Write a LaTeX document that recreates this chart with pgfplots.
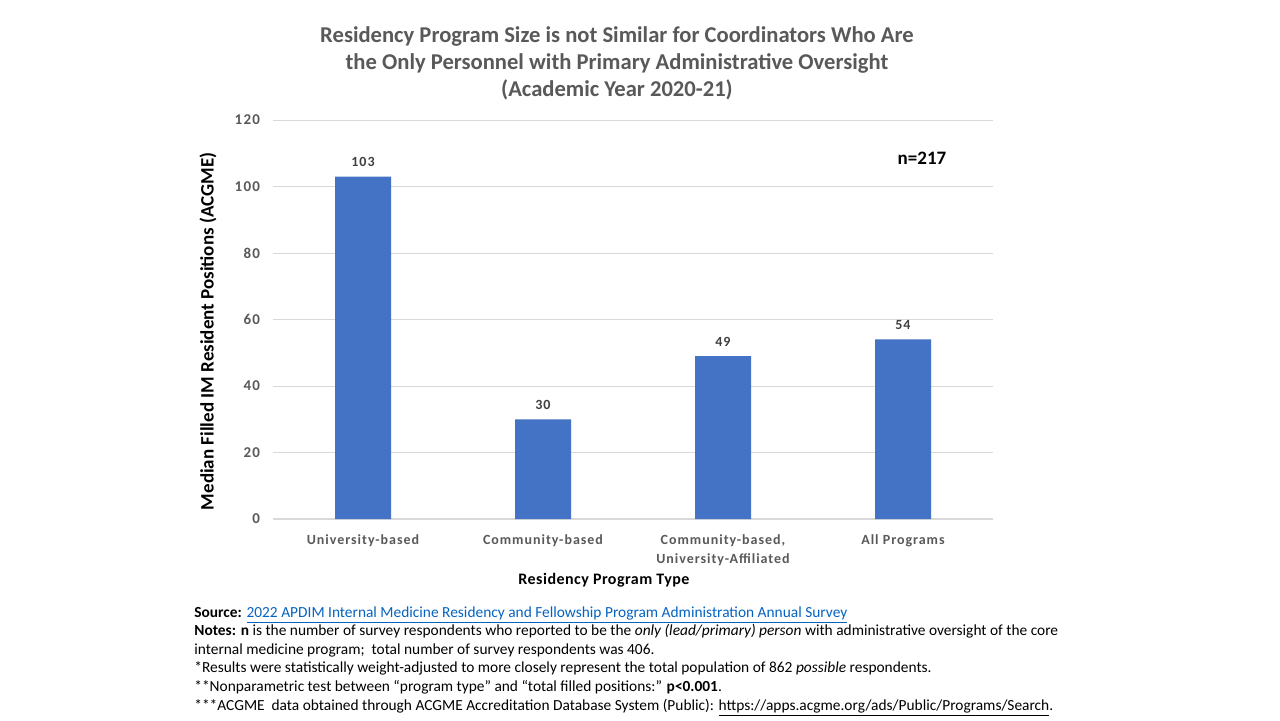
\documentclass[border=0pt]{standalone}
\usepackage{fontspec}
\setmainfont{Carlito}
\usepackage{pgfplots}
\pgfplotsset{compat=1.18}
\definecolor{barblue}{HTML}{4472C4}
\definecolor{titlegray}{HTML}{595959}
\definecolor{labgray}{HTML}{404040}
\definecolor{gridgray}{HTML}{D9D9D9}
\definecolor{linkblue}{HTML}{0563C1}
\begin{document}
\begin{tikzpicture}
\path[use as bounding box, fill=white] (0pt,0pt) rectangle (640pt,-360pt);
\begin{scope}[x=0.5pt,y=-0.5pt]
\node[align=center, font=\fontsize{11.3}{13.5}\selectfont\bfseries, text=titlegray] at (617,63)
  {Residency Program Size is not Similar for Coordinators Who Are\\
   the Only Personnel with Primary Administrative Oversight\\
   (Academic Year 2020-21)};
\node[font=\fontsize{9.5}{11}\selectfont\bfseries, text=black] at (922,158) {n=217};
\node[anchor=north west, inner sep=0pt, align=left, font=\fontsize{7.7}{9.3}\selectfont, text=black] at (194,606)
{\textbf{Source:} \textcolor{linkblue}{\underline{2022 APDIM Internal Medicine Residency and Fellowship Program Administration Annual Survey}}\\
\textbf{Notes: n} is the number of survey respondents who reported to be the \textit{only (lead/primary) person} with administrative oversight of the core\\
internal medicine program;\ \ total number of survey respondents was 406.\\
*Results were statistically weight-adjusted to more closely represent the total population of 862 \textit{possible} respondents.\\
**Nonparametric test between “program type” and “total filled positions:” \textbf{p<0.001}.\\
***ACGME\ \ data obtained through ACGME Accreditation Database System (Public): \underline{https://apps.acgme.org/ads/Public/Programs/Search}.};
\end{scope}
\begin{axis}[
  at={(136.5pt,-259.5pt)}, anchor=south west,
  scale only axis, width=360pt, height=199.5pt,
  ymin=0, ymax=120, ytick={0,20,...,120},
  xmin=-0.5, xmax=3.5, xtick={0,1,2,3},
  xticklabels={University-based, Community-based, {Community-based,\\University-Affiliated}, All Programs},
  xticklabel style={align=center, font=\fontsize{7}{9.5}\selectfont\bfseries\addfontfeature{LetterSpace=7}, text=titlegray, yshift=-4.5pt},
  yticklabel style={font=\fontsize{7.5}{9}\selectfont\bfseries\addfontfeature{LetterSpace=8}, text=titlegray, xshift=-3pt},
  /pgf/number format/assume math mode=true,
  ymajorgrids, grid style={gridgray, line width=0.5pt},
  axis x line*=bottom, axis y line*=left,
  y axis line style={draw=none},
  x axis line style={gridgray, line width=0.6pt, -},
  major tick length=0pt,
  ylabel={Median Filled IM Resident Positions (ACGME)},
  ylabel style={at={(axis description cs:-0.0903,0.47)}, anchor=center, font=\fontsize{9.5}{11}\selectfont\bfseries, text=black},
  xlabel={Residency Program Type},
  xlabel style={at={(axis description cs:0.4597,-0.1529)}, anchor=center, font=\fontsize{8}{9}\selectfont\bfseries\addfontfeature{LetterSpace=3}, text=black},
  ybar, bar width=28pt,
  nodes near coords,
  nodes near coords style={font=\fontsize{7}{9}\selectfont\bfseries\addfontfeature{LetterSpace=7}, text=labgray, yshift=1.5pt},
]
\addplot[fill=barblue, draw=none] coordinates {(0,103) (1,30) (2,49) (3,54)};
\end{axis}
\end{tikzpicture}
\end{document}
